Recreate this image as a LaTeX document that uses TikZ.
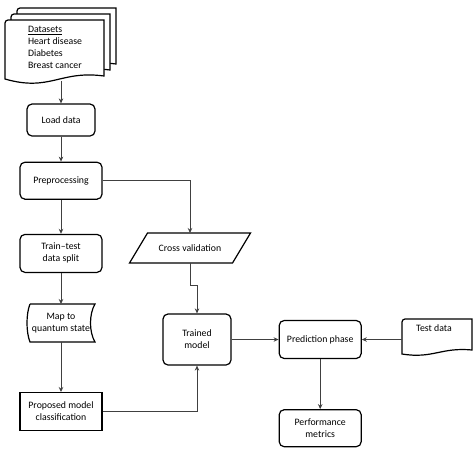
\documentclass[tikz,border=0pt]{standalone}
\usepackage{fontspec}
\setmainfont{Carlito}
\usepackage{tikz}
\usetikzlibrary{arrows.meta,positioning,calc}
\tikzset{
  base/.style={font=\fontsize{9.8}{12}\selectfont, align=center, inner sep=0pt},
  stepbox/.style={base, draw, rounded corners=5pt, line width=1.2pt},
  plainbox/.style={base, draw, line width=1.2pt},
  ghost/.style={base, outer sep=0pt},
  outline/.style={draw, line width=1.2pt, fill=white},
  arrow/.style={-{Stealth[length=5pt,width=4.5pt]}, line width=0.9pt, black!75},
}
% one sheet of the data stack
\newcommand{\sheet}[1][]{\draw[outline,#1] (104,76) -- (104,20) -- (8,20) to[out=180,in=90] (5,23) -- (5,79) .. controls (50,92) and (60,70) .. cycle;}

\begin{document}
\begin{tikzpicture}[x=1pt, y=-1pt]
\useasboundingbox (0,0) rectangle (474,451);

% data stack
\sheet[shift={(12,-12)}]
\sheet[shift={(6,-6)}]
\sheet
\node[ghost, align=left, anchor=west] (ds) at (28,47.5) {\underline{Datasets}\\Heart disease\\Diabetes\\Breast cancer};
\coordinate (dsbot) at (61,81);

% left column
\node[stepbox, minimum width=68pt, minimum height=32pt] (load) at (61,120) {Load data};
\node[stepbox, below=25pt of load, minimum width=82pt, minimum height=37pt] (prep) {Preprocessing};
\node[stepbox, below=34pt of prep, minimum width=82pt, minimum height=38pt] (split) {Train--test\\data split};
\node[ghost, below=31pt of split, minimum width=68pt, minimum height=38pt] (qmap) {Map to\\quantum state};
\draw[line width=1.2pt] ([xshift=3pt]qmap.north west) -- (qmap.north east)
  .. controls +(-6,10) and +(-6,-10) .. (qmap.south east)
  -- ([xshift=3pt]qmap.south west)
  .. controls +(-4,-10) and +(-4,10) .. ([xshift=3pt]qmap.north west);
\node[plainbox, below=50pt of qmap, minimum width=82pt, minimum height=38pt] (prop) {Proposed model\\classification};

% middle
\node[ghost, minimum width=103pt, minimum height=30pt] (cv) at (190,248) {Cross validation};
\draw[line width=1.2pt] ($(cv.north west)+(9,0)$) -- ($(cv.north east)+(9,0)$)
  -- ($(cv.south east)+(-9,0)$) -- ($(cv.south west)+(-9,0)$) -- cycle;
\node[stepbox, minimum width=68pt, minimum height=51pt] (trained) at (197,339.5) {Trained\\model};

% right
\node[stepbox, right=47pt of trained, minimum width=82pt, minimum height=38pt] (pred) {Prediction phase};
\node[stepbox, below=50pt of pred, minimum width=82pt, minimum height=37pt] (perf) {Performance\\metrics};
\draw[line width=1.2pt] (472,350) -- (472,319) -- (405,319) to[out=180,in=90] (402,322) -- (402,354)
  .. controls (433,359) and (441,347) .. cycle;
\node[ghost, minimum width=64pt] (test) at (434,328) {Test data};

% flow
\draw[arrow] (dsbot) -- (load);
\draw[arrow] (load) -- (prep);
\draw[arrow] (prep) -- (split);
\draw[arrow] (split) -- (qmap);
\draw[arrow] (qmap) -- (prop);
\draw[arrow] (prep.east) -| (cv.north);
\draw[arrow] (cv.south) -- ++(0,22) -| (trained.north);
\draw[arrow] (prop.east) -| (trained.south);
\draw[arrow] (trained) -- (pred);
\draw[arrow] (test.west |- pred.east) -- (pred.east);
\draw[arrow] (pred) -- (perf);
\end{tikzpicture}
\end{document}
